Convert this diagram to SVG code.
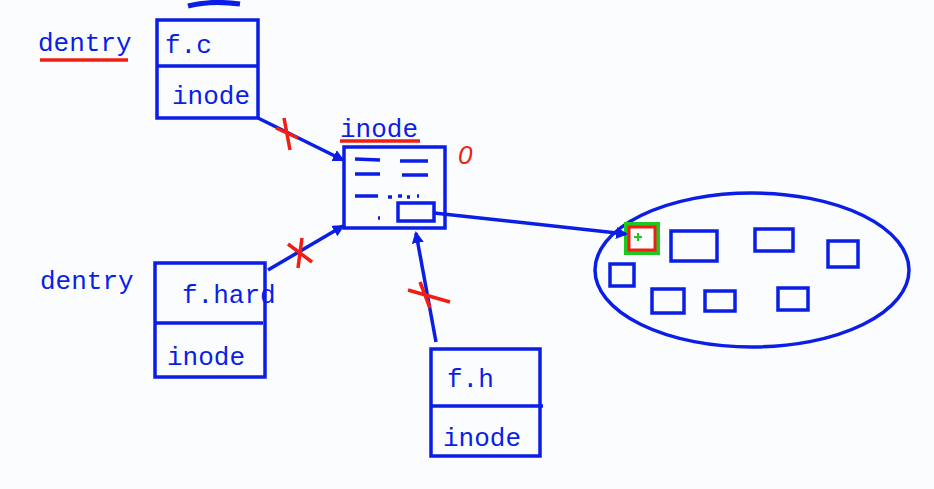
<svg xmlns="http://www.w3.org/2000/svg" width="934" height="489" viewBox="0 0 934 489">
<defs>
<style>
.b{fill:none;stroke:#0a1ee6;stroke-width:3.5}
.t{font-family:"Liberation Mono",monospace;font-size:26px;fill:#0a1ee6}
.r{stroke:#f01e14;stroke-width:3.5;fill:none}
.c{stroke:#0a1ee6;stroke-width:3.5;fill:none;marker-end:url(#a)}
</style>
<marker id="a" markerWidth="12" markerHeight="12" refX="10" refY="6" orient="auto" markerUnits="userSpaceOnUse"><path d="M0,0 L12,6 L0,12 Z" fill="#0a1ee6"/></marker>
</defs>
<rect width="934" height="489" fill="#fbfcfd"/>
<path d="M188,6 Q210,0 240,4" stroke="#0a1ee6" stroke-width="5" fill="none"/>
<g id="dentry1"><text class="t" x="38" y="51">dentry</text><line class="r" x1="40" y1="60" x2="128" y2="60"/></g>
<g id="fc"><rect class="b" x="157" y="20" width="101" height="98"/><line class="b" x1="157" y1="66" x2="258" y2="66"/><text class="t" x="165" y="53">f.c</text><text class="t" x="172" y="104">inode</text></g>
<g id="inode"><text class="t" x="340" y="137">inode</text><line class="r" x1="340" y1="141" x2="420" y2="141"/>
<rect class="b" x="344" y="147" width="101" height="81"/>
<g class="b"><line x1="355" y1="159" x2="380" y2="160"/><line x1="400" y1="161" x2="428" y2="161"/><line x1="355" y1="174" x2="380" y2="174"/><line x1="402" y1="175" x2="428" y2="175"/><line x1="355" y1="196" x2="378" y2="196"/><path d="M388,197h4M398,196h4M407,197h3M417,196h2"/><rect x="398" y="203" width="36" height="18"/><path d="M378,218h2"/></g>
<text x="458" y="164" font-family="Liberation Sans,sans-serif" font-size="26" font-style="italic" fill="#f01e14">0</text></g>
<g id="dentry2"><text class="t" x="40" y="289">dentry</text></g>
<g id="fhard"><rect class="b" x="155" y="263" width="110" height="114"/><line class="b" x1="155" y1="323" x2="263" y2="323"/><text class="t" x="182" y="303">f.hard</text><text class="t" x="167" y="365">inode</text></g>
<g id="fh"><rect class="b" x="431" y="349" width="109" height="107"/><line class="b" x1="431" y1="406" x2="543" y2="406"/><text class="t" x="447" y="387">f.h</text><text class="t" x="443" y="446">inode</text></g>
<g id="pool"><ellipse class="b" cx="752" cy="270" rx="157" ry="77"/>
<rect x="626" y="224" width="32" height="29" fill="none" stroke="#1ec81e" stroke-width="4"/><rect x="629" y="227" width="26" height="23" fill="#fff" stroke="#f01e14" stroke-width="3"/><path d="M634,237h8M638,233v8" stroke="#1ec81e" stroke-width="2"/>
<g class="b"><rect x="671" y="231" width="46" height="30"/><rect x="755" y="229" width="38" height="22"/><rect x="828" y="241" width="30" height="26"/><rect x="610" y="264" width="24" height="22"/><rect x="652" y="289" width="32" height="24"/><rect x="705" y="291" width="30" height="20"/><rect x="778" y="288" width="30" height="22"/></g></g>
<g id="connectors">
<line class="c" x1="258" y1="118" x2="343" y2="160"/>
<line class="c" x1="268" y1="270" x2="343" y2="226"/>
<line class="c" x1="436" y1="342" x2="416" y2="233"/>
<line class="c" x1="434" y1="213" x2="626" y2="234"/>
<g class="r"><path d="M276,128L298,138M284,118L290,150"/><path d="M288,244L312,262M302,238L298,268"/><path d="M408,290L450,302M420,282L430,308"/></g>
</g>
</svg>
